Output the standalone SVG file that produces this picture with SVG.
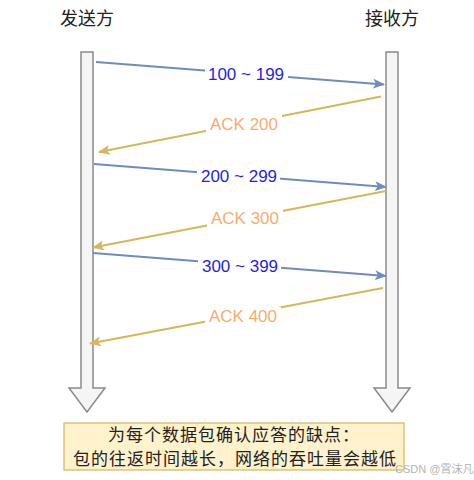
<svg xmlns="http://www.w3.org/2000/svg" width="474" height="480" viewBox="0 0 474 480">
<style>
.hdr{font-family:"Liberation Sans","Noto Sans CJK SC",sans-serif;font-size:18px;fill:#222;text-anchor:middle}
.life{fill:#f5f5f5;stroke:#8a8a8a;stroke-width:1.5}
.data{stroke:#6c8ebf;stroke-width:2;fill:none}
.ack{stroke:#d6b656;stroke-width:2;fill:none}
.lbl{font-family:"Liberation Sans",sans-serif;font-size:17px;text-anchor:middle;dominant-baseline:central}
.lbl-data{fill:#1f1fe6}
.lbl-ack{fill:#f6ad70}
.bg{fill:#ffffff}
.note{fill:#fff2cc;stroke:#d6b656;stroke-width:1.2}
.ntext{font-family:"Noto Sans CJK SC",sans-serif;font-size:17px;letter-spacing:1px;fill:#222;text-anchor:middle}
.wm{font-family:"Liberation Sans","Noto Sans CJK SC",sans-serif;font-size:11px;fill:#b5b5b5}
</style>
<defs>
<marker id="mb" viewBox="0 0 12 10" refX="11" refY="5" markerWidth="12" markerHeight="10" markerUnits="userSpaceOnUse" orient="auto">
<path d="M0,0 L12,5 L0,10 L3,5 Z" fill="#6c8ebf"/>
</marker>
<marker id="my" viewBox="0 0 12 10" refX="11" refY="5" markerWidth="12" markerHeight="10" markerUnits="userSpaceOnUse" orient="auto">
<path d="M0,0 L12,5 L0,10 L3,5 Z" fill="#d6b656"/>
</marker>
</defs>

<g id="sender">
<text class="hdr" x="87" y="25">发送方</text>
<path class="life" d="M81,52 H93 V388 H105 L87,412 L69,388 H81 Z"/>
</g>
<g id="receiver">
<text class="hdr" x="392" y="25">接收方</text>
<path class="life" d="M386,52 H398 V388 H410 L392,412 L374,388 H386 Z"/>
</g>

<g id="connectors">
<line class="data" x1="96" y1="62" x2="384" y2="84.5" marker-end="url(#mb)"/>
<line class="ack" x1="381" y1="96.5" x2="99" y2="152" marker-end="url(#my)"/>
<line class="data" x1="94" y1="164" x2="386" y2="187" marker-end="url(#mb)"/>
<line class="ack" x1="386" y1="191" x2="93" y2="247.5" marker-end="url(#my)"/>
<line class="data" x1="93" y1="253" x2="386" y2="276" marker-end="url(#mb)"/>
<line class="ack" x1="383" y1="288" x2="90" y2="343.5" marker-end="url(#my)"/>

<rect class="bg" x="205" y="65" width="83" height="18"/>
<text class="lbl lbl-data" x="246" y="74">100 ~ 199</text>
<rect class="bg" x="206" y="115" width="76" height="18"/>
<text class="lbl lbl-ack" x="244" y="124">ACK 200</text>
<rect class="bg" x="197" y="167" width="83" height="18"/>
<text class="lbl lbl-data" x="239" y="176">200 ~ 299</text>
<rect class="bg" x="207" y="209" width="76" height="18"/>
<text class="lbl lbl-ack" x="245" y="218">ACK 300</text>
<rect class="bg" x="198" y="257" width="83" height="18"/>
<text class="lbl lbl-data" x="240" y="266">300 ~ 399</text>
<rect class="bg" x="205" y="307" width="76" height="18"/>
<text class="lbl lbl-ack" x="243" y="316">ACK 400</text>
</g>

<g id="note">
<rect class="note" x="64" y="423" width="340" height="47"/>
<text class="ntext"><tspan x="234" y="441">为每个数据包确认应答的缺点：</tspan><tspan x="235" y="465">包的往返时间越长，网络的吞吐量会越低</tspan></text>
</g>

<text class="wm" x="395" y="473">CSDN @霄沫凡</text>
</svg>
